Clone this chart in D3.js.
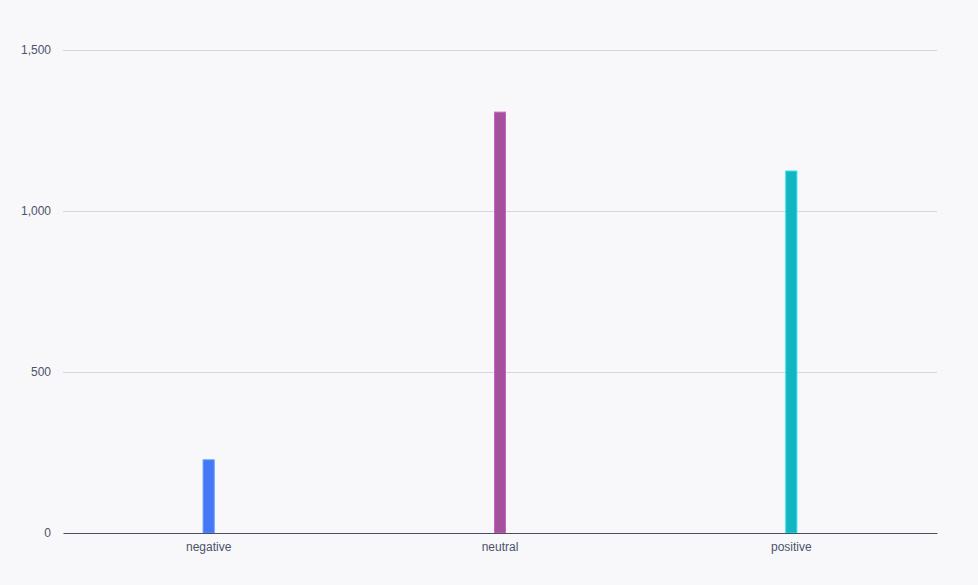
<!DOCTYPE html>
<html>
<head>
<meta charset="utf-8">
<script src="https://cdn.jsdelivr.net/npm/d3@7"></script>
<style>
  body { margin: 0; background: #f8f8fb; }
  text { font-family: Arial, "Liberation Sans", sans-serif; }
</style>
</head>
<body>
<div id="chart"></div>
<script>
// data
let categories = ["negative", "neutral", "positive"];
let counts = [227, 1307, 1124];
let barColors = ["#4477f7", "#a5509d", "#13b5c0"];
let yTicks = [0, 500, 1000, 1500];

let margin = {top: 50, right: 41, bottom: 52, left: 63};
let width = 978 - margin.left - margin.right;
let height = 585 - margin.top - margin.bottom;

let svg = d3.select("#chart").append("svg")
    .attr("width", 978)
    .attr("height", 585)
    .style("background", "#f8f8fb");

let g = svg.append("g")
    .attr("transform", "translate(" + margin.left + "," + margin.top + ")");

let x = d3.scaleBand()
    .domain(categories)
    .range([0, width]);

let y = d3.scaleLinear()
    .domain([0, 1500])
    .range([height, 0]);

// gridlines
g.selectAll(".grid")
    .data(yTicks.filter(d => d > 0))
    .enter()
    .append("line")
    .attr("class", "grid")
    .attr("x1", 0)
    .attr("x2", width)
    .attr("y1", d => y(d) + 0.5)
    .attr("y2", d => y(d) + 0.5)
    .attr("stroke", "#d5d6e2")
    .attr("stroke-width", 1);

// y labels
let yAxis = g.append("g")
    .call(d3.axisLeft(y).tickValues(yTicks).tickFormat(d3.format(",")).tickSize(0).tickPadding(12));
yAxis.select(".domain").remove();
yAxis.selectAll("text")
    .attr("fill", "#4d5268")
    .style("font-size", "12px");

// bars
let barW = 11;
g.selectAll(".bar")
    .data(counts)
    .enter()
    .append("rect")
    .attr("class", "bar")
    .attr("x", (d, i) => x(categories[i]) + x.bandwidth() / 2 - barW / 2)
    .attr("y", d => y(d))
    .attr("width", barW)
    .attr("height", d => height - y(d))
    .attr("fill", (d, i) => barColors[i])
    .attr("stroke", (d, i) => d3.color(barColors[i]).brighter(0.6))
    .attr("stroke-width", 1);

// x axis
let xAxis = g.append("g")
    .attr("transform", "translate(0," + height + ")")
    .call(d3.axisBottom(x).tickSize(0).tickPadding(9));
xAxis.select(".domain")
    .attr("stroke", "#4a4f63");
xAxis.selectAll("text")
    .attr("fill", "#4d5268")
    .style("font-size", "12px");
</script>
</body>
</html>
